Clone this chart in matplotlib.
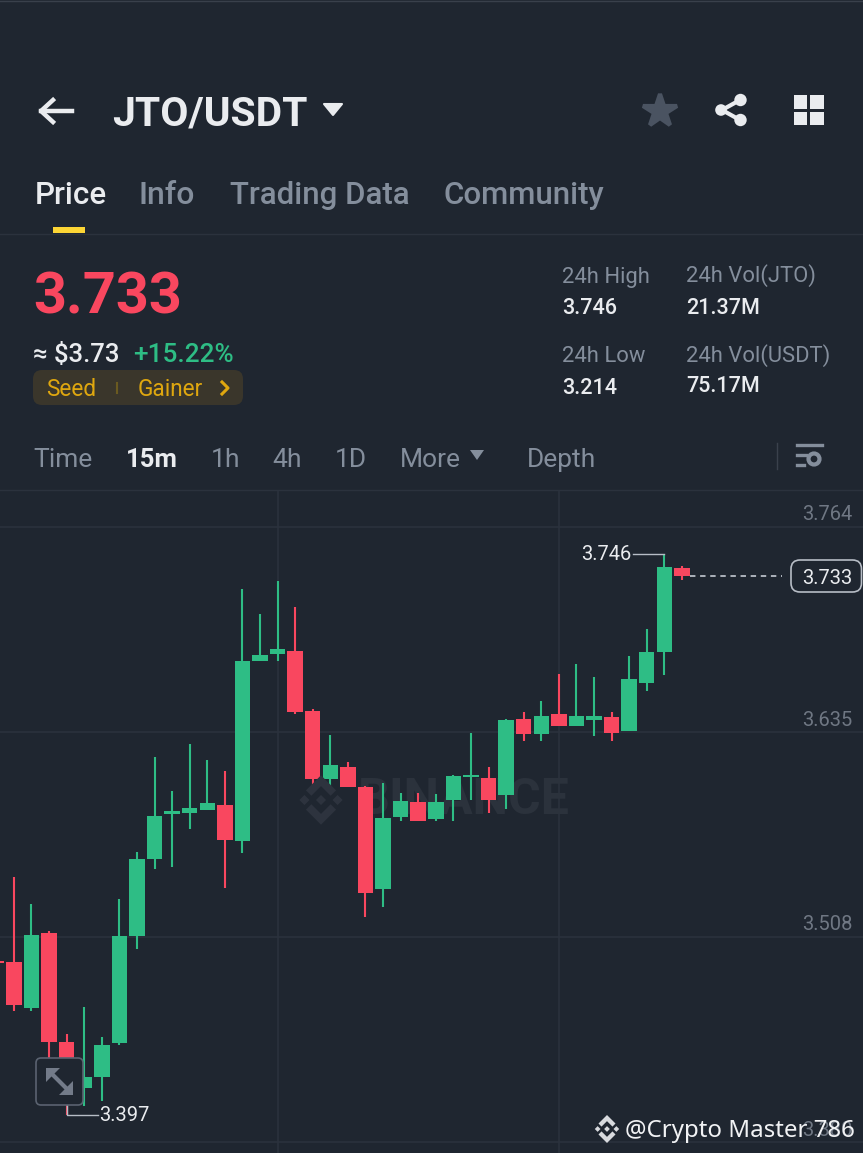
import matplotlib
matplotlib.use("Agg")
import matplotlib.pyplot as plt
from matplotlib.patches import Circle, FancyBboxPatch, Polygon, Rectangle

plt.rcParams['font.family'] = ['Roboto', 'DejaVu Sans']

# candles, oldest first
opens = [3.4925, 3.4919, 3.4633, 3.5100, 3.4422, 3.4136, 3.4204, 3.4416, 3.5081, 3.5560,
         3.5840, 3.5846, 3.5865, 3.5896, 3.5672, 3.6792, 3.6835, 3.6854, 3.6481, 3.6058,
         3.6132, 3.6008, 3.5373, 3.5821, 3.5915, 3.5809, 3.5927, 3.6070, 3.6064, 3.5958,
         3.6431, 3.6338, 3.6462, 3.6387, 3.6425, 3.6443, 3.6356, 3.6655, 3.6848, 3.7370]
closes = [3.4915, 3.4652, 3.5087, 3.4422, 3.4136, 3.4204, 3.4403, 3.5081, 3.5560, 3.5828,
          3.5859, 3.5877, 3.5908, 3.5678, 3.6792, 3.6829, 3.6866, 3.6474, 3.6058, 3.6145,
          3.6008, 3.5349, 3.5815, 3.5921, 3.5796, 3.5915, 3.6076, 3.6083, 3.5927, 3.6425,
          3.6338, 3.6450, 3.6387, 3.6450, 3.6450, 3.6344, 3.6680, 3.6848, 3.7376, 3.7320]
highs = [3.4935, 3.5448, 3.5280, 3.5112, 3.4472, 3.4639, 3.4453, 3.5311, 3.5604, 3.6194,
         3.5983, 3.6275, 3.6176, 3.6107, 3.7239, 3.7084, 3.7289, 3.7128, 3.6493, 3.6331,
         3.6163, 3.6014, 3.6033, 3.5971, 3.5971, 3.5964, 3.6083, 3.6344, 3.6132, 3.6431,
         3.6474, 3.6543, 3.6711, 3.6773, 3.6692, 3.6474, 3.6823, 3.6991, 3.7460, 3.7383]
lows = [3.4905, 3.4615, 3.4615, 3.4217, 3.3970, 3.4024, 3.4055, 3.4403, 3.5000, 3.5498,
        3.5510, 3.5747, 3.5865, 3.5380, 3.5597, 3.6792, 3.6792, 3.6462, 3.5995, 3.5995,
        3.6120, 3.5199, 3.5261, 3.5796, 3.5796, 3.5796, 3.5796, 3.5927, 3.5846, 3.5871,
        3.6294, 3.6294, 3.6387, 3.6387, 3.6325, 3.6294, 3.6356, 3.6605, 3.6705, 3.7298]

grid_prices = [3.7625, 3.635, 3.5075, 3.380]
price_labels = ['3.764', '3.635', '3.508', '3.380']
grid_candles = [16, 32]
high_price = 3.746
low_price = 3.397

tabs = ['Price', 'Info', 'Trading Data', 'Community']
periods = ['Time', '15m', '1h', '4h', '1D', 'More', 'Depth']

BG = '#1f2630'
GRID = '#2b323d'
GRAY = '#848e9c'
WHITE = '#eaecef'
GREEN = '#2ebd85'
RED = '#f9475f'
GOLD = '#dfa70f'

fig = plt.figure(figsize=(8.63, 11.53), dpi=100, facecolor=BG)

# chart area, pixel rows 490..1153
ax = fig.add_axes([0, 0, 1, (1153 - 490) / 1153])
ax.set_facecolor(BG)
ax.set_xlim(0.2105, 49.30)
ax.set_ylim(3.3731, 3.7855)
ax.axis('off')

for p in grid_prices:
    ax.axhline(p, color=GRID, lw=1.2, zorder=1)
for c in grid_candles:
    ax.axvline(c, color=GRID, lw=1.2, zorder=1)

ax.text(26.6, 3.5925, 'BINANCE', color='#2b323c', fontsize=36, fontweight='bold',
        ha='center', va='center', zorder=2)

for i in range(len(opens)):
    col = GREEN if closes[i] >= opens[i] else RED
    ax.vlines(i, lows[i], highs[i], color=col, lw=1.5, zorder=3)
    ax.bar(i, abs(closes[i] - opens[i]), bottom=min(opens[i], closes[i]), width=0.88,
           color=col, zorder=4)

# high / low / last markers
ax.plot([36.2, 38], [high_price, high_price], color='#b7bdc6', lw=1, zorder=5)
ax.text(36.15, high_price - 0.0008, '3.746', color=WHITE, fontsize=14.5, ha='right', va='center')
ax.plot([4, 4, 5.8], [3.41, low_price, low_price], color='#b7bdc6', lw=1, zorder=5)
ax.text(5.85, low_price - 0.0006, '3.397', color=WHITE, fontsize=14.5, ha='left', va='center')
ax.plot([39.45, 44.7], [closes[-1], closes[-1]], color='#b7bdc6', lw=1.3, ls=(0, (3, 2.6)), zorder=5)

# everything else is drawn in pixel coordinates on top
ui = fig.add_axes([0, 0, 1, 1])
ui.set_xlim(0, 863)
ui.set_ylim(1153, 0)
ui.axis('off')
ui.patch.set_alpha(0)


def label(x, y, s, color=GRAY, size=17, weight='normal', ha='left', **kw):
    ui.text(x, y + 3, s, color=color, fontsize=size, fontweight=weight, ha=ha, va='center', **kw)


def binance_logo(cx, cy, r, color):
    # four small diamonds round a centre one, like the exchange mark
    d = r * 0.22
    for dx, dy in [(0, 0), (-r * 0.72, 0), (r * 0.72, 0)]:
        ui.add_patch(Polygon([(cx + dx - d, cy + dy), (cx + dx, cy + dy - d),
                              (cx + dx + d, cy + dy), (cx + dx, cy + dy + d)], color=color, lw=0))
    ui.plot([cx - r * 0.42, cx, cx + r * 0.42], [cy - r * 0.42, cy - r * 0.84, cy - r * 0.42],
            color=color, lw=r * 0.24, solid_joinstyle='miter')
    ui.plot([cx - r * 0.42, cx, cx + r * 0.42], [cy + r * 0.42, cy + r * 0.84, cy + r * 0.42],
            color=color, lw=r * 0.24, solid_joinstyle='miter')


ui.plot([0, 863], [0.5, 0.5], color='#39404b', lw=1)
ui.plot([0, 863], [234, 234], color=GRID, lw=1)
ui.plot([0, 863], [490, 490], color=GRID, lw=1)

# header
ui.plot([41, 72], [111, 111], color=WHITE, lw=3.2)
ui.plot([53, 41, 53], [100, 111, 122], color=WHITE, lw=3.2)
label(112, 111, 'JTO/USDT', WHITE, 29.3, 'bold')
ui.add_patch(Polygon([(324, 104), (342, 104), (333, 115)], fc=WHITE, ec=WHITE, lw=1.5, joinstyle='round'))

ui.plot([660], [111], marker='*', ms=25, color='#4a5361', mec='#4a5361', mew=3, mfc='#4a5361')
ui.plot([740, 722, 740], [100, 110, 120], color=WHITE, lw=3)
for cx, cy, r in [(740.5, 100, 6.2), (721, 110, 5.8), (740.5, 120, 6.2)]:
    ui.add_patch(Circle((cx, cy), r, color=WHITE, lw=0))
for x0, y0 in [(793.5, 95), (810, 95), (793.5, 111.5), (810, 111.5)]:
    ui.add_patch(Rectangle((x0, y0), 13.5, 13.5, color=WHITE, lw=0))

# tabs
tab_x = [35, 138, 230, 443]
for n, t in enumerate(tabs):
    label(tab_x[n], 193, t, WHITE if n == 0 else GRAY, 23 if n == 1 else 22.5, 'medium')
ui.add_patch(Rectangle((53, 227), 32, 6, color='#fcd535', lw=0))

# price block
label(33, 295, '3.733', RED, 41.5, 'bold')
label(33, 352, '≈ $3.73', WHITE, 18.5, 'medium')
label(133, 352, '+15.22%', GREEN, 18.8, 'medium')
ui.add_patch(FancyBboxPatch((33, 370), 210, 35, boxstyle='round,pad=0,rounding_size=9',
                            fc='#3a362b', ec='none', lw=0))
label(46, 387, 'Seed', GOLD, 16.3)
ui.plot([117, 117], [383, 393], color='#6a5a20', lw=1.5)
label(138, 387, 'Gainer', GOLD, 16.3)
ui.plot([222, 228, 222], [382, 388, 394], color=GOLD, lw=2.2)

# 24h stats
label(562, 274, '24h High', GRAY, 15.8)
label(562, 305, '3.746', WHITE, 15.5, 'medium')
label(562, 354, '24h Low', GRAY, 15.8)
label(562, 385, '3.214', WHITE, 15.5, 'medium')
label(686, 273, '24h Vol(JTO)', GRAY, 15.8)
label(686, 305, '21.37M', WHITE, 15.5, 'medium')
label(686, 353, '24h Vol(USDT)', GRAY, 15.8)
label(686, 384, '75.17M', WHITE, 15.5, 'medium')

# period row
period_x = [33, 126, 211, 272, 335, 400, 527]
for n, t in enumerate(periods):
    if t == '15m':
        label(period_x[n], 457, t, WHITE, 18.5, 'bold')
    else:
        label(period_x[n], 457, t, GRAY, 19)
ui.add_patch(Polygon([(470, 450), (484, 450), (477, 460)], color=GRAY, lw=0))
ui.plot([777, 777], [443, 469], color='#3a414c', lw=1)
ui.plot([797, 822], [445, 445], color=GRAY, lw=2.4)
ui.plot([797, 806], [455, 455], color=GRAY, lw=2.4)
ui.plot([797, 804], [465, 465], color=GRAY, lw=2.4)
ui.add_patch(Circle((814, 459), 5.5, fc=BG, ec=GRAY, lw=3))

# watermark logo
binance_logo(321, 800, 23, '#2d333e')

# axis labels
ypos = [512, 718, 922, 1128]
for y, s in zip(ypos, price_labels):
    label(852, y, s, '#6f7783', 14.5, ha='right')

# last price box
ui.add_patch(FancyBboxPatch((791, 560), 70.5, 32, boxstyle='round,pad=0,rounding_size=9',
                            fc=BG, ec='#b7bdc6', lw=1.2))
label(827, 575, '3.733', WHITE, 14.5, ha='center')

# expand button
ui.add_patch(FancyBboxPatch((36, 1058), 47, 47, boxstyle='round,pad=0,rounding_size=5',
                            fc=BG, ec='#5a6270', lw=1.2, zorder=6))
ui.plot([52, 67], [1074, 1089], color='#737b89', lw=3, zorder=7)
ui.add_patch(Polygon([(46, 1068), (60, 1068), (46, 1082)], color='#737b89', lw=0, zorder=7))
ui.add_patch(Polygon([(73, 1095), (59, 1095), (73, 1081)], color='#737b89', lw=0, zorder=7))

# footer watermark
binance_logo(607, 1129, 13, '#d8dade')
ui.text(625, 1131, '@Crypto Master 786', color='#f1f2f4', fontsize=17.3,
        family=['Noto Sans', 'DejaVu Sans'], ha='left', va='center')

fig.savefig('out.png', dpi=100, facecolor=BG)
